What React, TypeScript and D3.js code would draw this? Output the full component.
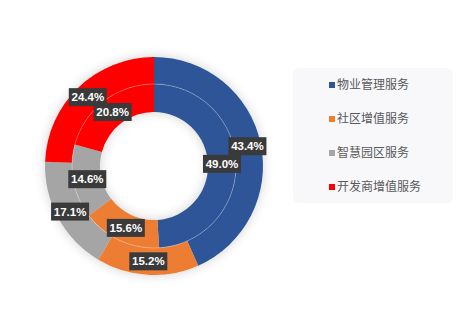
import React from "react";
import * as d3 from "d3";

const categories = ["物业管理服务", "社区增值服务", "智慧园区服务", "开发商增值服务"];
const outerValues = [43.4, 15.2, 17.1, 24.4];
const innerValues = [49.0, 15.6, 14.6, 20.8];
const colors = ["#2F5597", "#ED7D31", "#A5A5A5", "#FF0000"];

const W = 461;
const H = 316;
const cx = 154;
const cy = 166;
const rHole = 54;
const rMid = 82;
const rOuter = 109;

export default function App() {
  const pie = d3.pie<number>().sort(null).value((d) => d);
  const outerArcs = pie(outerValues);
  const innerArcs = pie(innerValues);
  const outerArc = d3.arc<d3.PieArcDatum<number>>().innerRadius(rMid).outerRadius(rOuter);
  const innerArc = d3.arc<d3.PieArcDatum<number>>().innerRadius(rHole).outerRadius(rMid);

  const label = (d: d3.PieArcDatum<number>, arc: any, key: string) => {
    const [x, y] = arc.centroid(d);
    const txt = d.data.toFixed(1) + "%";
    return (
      <g key={key} transform={`translate(${x},${y})`}>
        <rect x={-19} y={-9} width={38} height={18} fill="#3a3a3a" />
        <text
          textAnchor="middle"
          dy="0.36em"
          fill="#ffffff"
          fontSize={11.5}
          fontWeight="bold"
          fontFamily="Liberation Sans, Arial, sans-serif"
        >
          {txt}
        </text>
      </g>
    );
  };

  const legendY = d3.scalePoint<string>().domain(categories).range([85, 187]);

  return (
    <svg width={W} height={H} style={{ position: "absolute", left: 0, top: 0 }}>
      <defs>
        <filter id="shadow" x="-30%" y="-30%" width="160%" height="160%">
          <feGaussianBlur in="SourceAlpha" stdDeviation="6" />
          <feComponentTransfer>
            <feFuncA type="linear" slope="0.18" />
          </feComponentTransfer>
          <feMerge>
            <feMergeNode />
            <feMergeNode in="SourceGraphic" />
          </feMerge>
        </filter>
      </defs>
      <rect width={W} height={H} fill="#ffffff" />
      <g transform={`translate(${cx},${cy})`} filter="url(#shadow)">
        {outerArcs.map((d, i) => (
          <path key={"o" + i} d={outerArc(d) || ""} fill={colors[i]} />
        ))}
        {innerArcs.map((d, i) => (
          <path key={"i" + i} d={innerArc(d) || ""} fill={colors[i]} />
        ))}
        <circle r={rMid} fill="none" stroke="#ffffff" strokeOpacity={0.35} strokeWidth={0.8} />
      </g>
      <g transform={`translate(${cx},${cy})`}>
        {outerArcs.map((d, i) => label(d, outerArc, "lo" + i))}
        {innerArcs.map((d, i) => label(d, innerArc, "li" + i))}
      </g>
      <rect x={293} y={68} width={160} height={135} rx={6} fill="#f8f8fb" />
      {categories.map((c, i) => (
        <g key={c} transform={`translate(329,${legendY(c)})`}>
          <rect x={0} y={-3} width={6} height={6} fill={colors[i]} />
          <text
            x={8}
            dy="0.36em"
            fontSize={12}
            fill="#595959"
            fontFamily="Noto Sans CJK SC, sans-serif"
          >
            {c}
          </text>
        </g>
      ))}
    </svg>
  );
}
